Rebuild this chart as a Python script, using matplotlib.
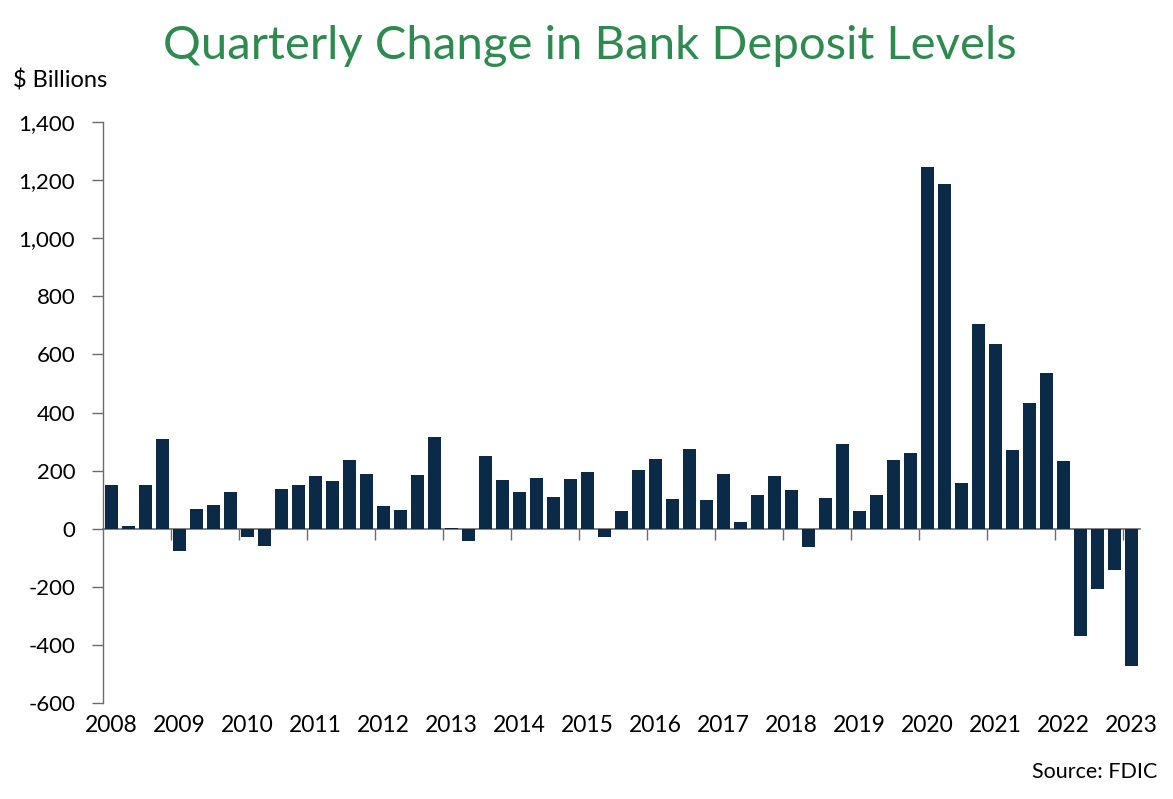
import matplotlib
matplotlib.use("Agg")
import matplotlib.pyplot as plt
from matplotlib.ticker import FuncFormatter, MultipleLocator

plt.rcParams['font.family'] = ['Lato', 'DejaVu Sans']

# quarterly change in deposits, $ billions, 2008 Q1 .. 2023 Q1
years = list(range(2008, 2024))
deposit_change = [
    151, 9, 149, 310,        # 2008
    -78, 69, 81, 127,        # 2009
    -29, -61, 135, 149,      # 2010
    181, 165, 236, 187,      # 2011
    78, 64, 185, 317,        # 2012
    4, -41, 251, 168,        # 2013
    127, 176, 110, 170,      # 2014
    196, -30, 61, 202,       # 2015
    241, 101, 273, 99,       # 2016
    190, 23, 116, 181,       # 2017
    133, -62, 105, 292,      # 2018
    61, 115, 237, 261,       # 2019
    1244, 1185, 157, 704,    # 2020
    636, 272, 434, 537,      # 2021
    232, -371, -208, -143,   # 2022
    -474,                    # 2023 Q1
]

BAR = '#0a2a47'
GREEN = '#2e8b4f'
AXIS = '#6b6b6b'

fig = plt.figure(figsize=(11.73, 7.99), dpi=100)
ax = fig.add_axes([103 / 1173, 96 / 799, (1140 - 103) / 1173, (703 - 122) / 799])

x = list(range(len(deposit_change)))
ax.bar(x, deposit_change, width=0.82, color=BAR, zorder=2)

ax.set_xlim(-0.5, len(deposit_change) - 0.5)
ax.set_ylim(-600, 1400)
ax.yaxis.set_major_locator(MultipleLocator(200))
ax.yaxis.set_major_formatter(FuncFormatter(lambda v, p: f"{int(v):,}"))
ax.tick_params(axis='y', length=8, width=1, color=AXIS, labelsize=16, pad=12)

# year labels sit under the Q1 bar of each year
q1_pos = [4 * i for i in range(len(years))]
ax.set_xticks(q1_pos, [str(y) for y in years])
ax.tick_params(axis='x', length=0, labelsize=16.5, pad=9)

for side in ['top', 'right', 'bottom']:
    ax.spines[side].set_visible(False)
ax.spines['left'].set_color(AXIS)
ax.spines['left'].set_linewidth(1)

# category axis drawn at zero, with ticks between Q4 and Q1
zero_frac = 600 / 2000
sec = ax.secondary_xaxis(zero_frac)
sec.set_xticks([p - 0.5 for p in q1_pos[1:]], [''] * (len(q1_pos) - 1))
sec.tick_params(axis='x', length=8, width=1, color=AXIS, direction='out')
sec.spines['bottom'].set_color(AXIS)
sec.spines['bottom'].set_linewidth(1.2)

fig.text(590 / 1173, 1 - 46 / 799, 'Quarterly Change in Bank Deposit Levels',
         color=GREEN, fontsize=34, ha='center', va='center')
fig.text(13 / 1173, 1 - 80 / 799, '$ Billions', fontsize=17, ha='left', va='center')
fig.text(1157 / 1173, 1 - 772 / 799, 'Source: FDIC', fontsize=15.5, ha='right', va='center')

fig.savefig('out.png', dpi=100)
